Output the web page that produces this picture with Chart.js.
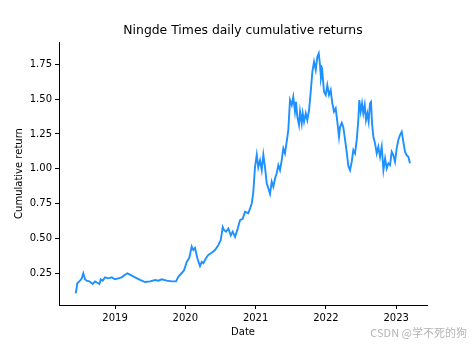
<!DOCTYPE html>
<html>
<head>
<meta charset="utf-8">
<script src="https://cdn.jsdelivr.net/npm/chart.js@4/dist/chart.umd.min.js"></script>
<style>
  html, body { margin: 0; padding: 0; background: #fff; }
</style>
</head>
<body>
<canvas id="returnsChart" width="474" height="344"></canvas>
<script>
// dates as fractional years
var dates = [
  2018.441, 2018.464, 2018.492, 2018.526, 2018.549, 2018.573, 2018.597, 2018.634, 2018.683, 2018.716,
  2018.748, 2018.777, 2018.797, 2018.825, 2018.858, 2018.905, 2018.953, 2019.000, 2019.047, 2019.095,
  2019.142, 2019.175, 2019.213, 2019.284, 2019.356, 2019.427, 2019.498, 2019.569, 2019.616, 2019.664,
  2019.735, 2019.807, 2019.868, 2019.900, 2019.949, 2019.982, 2020.020, 2020.057, 2020.091, 2020.114,
  2020.138, 2020.171, 2020.209, 2020.233, 2020.256, 2020.294, 2020.327, 2020.376, 2020.422, 2020.469,
  2020.504, 2020.532, 2020.550, 2020.579, 2020.612, 2020.646, 2020.674, 2020.707, 2020.740, 2020.778,
  2020.816, 2020.849, 2020.896, 2020.930, 2020.945, 2020.967, 2020.991, 2021.016, 2021.038, 2021.063,
  2021.087, 2021.110, 2021.134, 2021.158, 2021.181, 2021.205, 2021.229, 2021.252, 2021.276, 2021.300,
  2021.323, 2021.347, 2021.371, 2021.394, 2021.418, 2021.442, 2021.465, 2021.489, 2021.514, 2021.536,
  2021.560, 2021.575, 2021.593, 2021.617, 2021.632, 2021.656, 2021.670, 2021.689, 2021.713, 2021.735,
  2021.760, 2021.784, 2021.807, 2021.831, 2021.855, 2021.878, 2021.898, 2021.916, 2021.930, 2021.949,
  2021.973, 2021.997, 2022.020, 2022.044, 2022.068, 2022.091, 2022.115, 2022.139, 2022.162, 2022.186,
  2022.201, 2022.225, 2022.247, 2022.272, 2022.296, 2022.319, 2022.343, 2022.367, 2022.390, 2022.414,
  2022.438, 2022.461, 2022.475, 2022.495, 2022.514, 2022.532, 2022.552, 2022.570, 2022.589, 2022.608,
  2022.627, 2022.642, 2022.656, 2022.675, 2022.699, 2022.723, 2022.746, 2022.770, 2022.794, 2022.818,
  2022.842, 2022.865, 2022.888, 2022.912, 2022.936, 2022.959, 2022.983, 2023.007, 2023.030, 2023.054,
  2023.078, 2023.101, 2023.125, 2023.149, 2023.172, 2023.196
];
var cumReturns = [
  0.104, 0.176, 0.190, 0.210, 0.248, 0.205, 0.195, 0.190, 0.171, 0.190,
  0.180, 0.171, 0.205, 0.195, 0.219, 0.212, 0.219, 0.205, 0.212, 0.219,
  0.238, 0.248, 0.238, 0.219, 0.200, 0.185, 0.190, 0.200, 0.195, 0.205,
  0.195, 0.190, 0.190, 0.223, 0.250, 0.270, 0.330, 0.360, 0.440, 0.415,
  0.430, 0.356, 0.300, 0.330, 0.320, 0.356, 0.380, 0.396, 0.415, 0.450,
  0.487, 0.580, 0.560, 0.547, 0.570, 0.520, 0.547, 0.510, 0.560, 0.630,
  0.640, 0.690, 0.680, 0.727, 0.750, 0.830, 1.010, 1.100, 1.010, 1.060,
  0.990, 1.100, 1.010, 0.895, 0.860, 0.820, 0.906, 0.870, 0.930, 0.967,
  1.026, 0.990, 1.060, 1.146, 1.110, 1.194, 1.278, 1.494, 1.458, 1.517,
  1.410, 1.480, 1.374, 1.314, 1.410, 1.326, 1.398, 1.338, 1.398, 1.350,
  1.420, 1.553, 1.697, 1.769, 1.710, 1.805, 1.830, 1.745, 1.650, 1.697,
  1.553, 1.530, 1.600, 1.530, 1.566, 1.470, 1.410, 1.434, 1.338, 1.230,
  1.300, 1.330, 1.300, 1.210, 1.120, 1.020, 0.990, 1.050, 1.134, 1.110,
  1.206, 1.350, 1.494, 1.410, 1.470, 1.398, 1.458, 1.350, 1.398, 1.338,
  1.470, 1.480, 1.326, 1.230, 1.182, 1.110, 1.158, 1.086, 1.158, 0.990,
  1.074, 1.002, 1.039, 1.026, 1.122, 1.098, 1.050, 1.146, 1.206, 1.242,
  1.266, 1.194, 1.122, 1.098, 1.086, 1.040
];
var xTicks = [2019, 2020, 2021, 2022, 2023];
var yTicks = [0.25, 0.50, 0.75, 1.00, 1.25, 1.50, 1.75];
var titleText = 'Ningde Times daily cumulative returns';
var watermark = 'CSDN @学不死的狗';

var tickFont = { family: 'DejaVu Sans', size: 10 };

// title over the plot area and the watermark in the corner
var textPlugin = {
  id: 'texts',
  afterDraw: function (chart) {
    var ctx = chart.ctx, a = chart.chartArea;
    ctx.save();
    ctx.font = '12.4px "DejaVu Sans"';
    ctx.fillStyle = '#000';
    ctx.textAlign = 'center';
    ctx.textBaseline = 'middle';
    ctx.fillText(titleText, (a.left + a.right) / 2, 31);
    ctx.font = '11px "Noto Sans CJK SC"';
    ctx.fillStyle = '#b4b4b4';
    ctx.textAlign = 'right';
    ctx.fillText(watermark, 467, 333);
    ctx.restore();
  }
};

var ctx = document.getElementById('returnsChart').getContext('2d');
var myChart = new Chart(ctx, {
  type: 'line',
  data: {
    datasets: [{
      label: 'Cumulative return',
      data: dates.map(function (d, i) { return { x: d, y: cumReturns[i] }; }),
      borderColor: '#1e90ff',
      borderWidth: 1.9,
      pointRadius: 0,
      tension: 0,
      fill: false
    }]
  },
  options: {
    responsive: false,
    animation: false,
    devicePixelRatio: 1,
    layout: { padding: { top: 42, right: 47, bottom: 0, left: 0 } },
    plugins: {
      legend: { display: false },
      tooltip: { enabled: false }
    },
    scales: {
      x: {
        type: 'linear',
        min: 2018.203,
        max: 2023.438,
        afterBuildTicks: function (s) { s.ticks = xTicks.map(function (v) { return { value: v }; }); },
        afterFit: function (s) { s.height = 39; },
        ticks: {
          font: tickFont, color: '#000', padding: 3, maxRotation: 0, autoSkip: false,
          callback: function (v) { return String(v); }
        },
        grid: { drawOnChartArea: false, tickLength: 4, color: '#000' },
        border: { display: true, color: '#000', width: 1 },
        title: { display: true, text: 'Date', color: '#000', font: tickFont, padding: { top: 0, bottom: 6 } }
      },
      y: {
        type: 'linear',
        min: 0.02,
        max: 1.911,
        afterBuildTicks: function (s) { s.ticks = yTicks.map(function (v) { return { value: v }; }); },
        afterFit: function (s) { s.width = 59; },
        ticks: {
          font: tickFont, color: '#000', padding: 3,
          callback: function (v) { return v.toFixed(2); }
        },
        grid: { drawOnChartArea: false, tickLength: 4, color: '#000' },
        border: { display: true, color: '#000', width: 1 },
        title: { display: true, text: 'Cumulative return', color: '#000', font: tickFont, padding: { top: 13, bottom: 0 } }
      }
    }
  },
  plugins: [textPlugin]
});
</script>
</body>
</html>
